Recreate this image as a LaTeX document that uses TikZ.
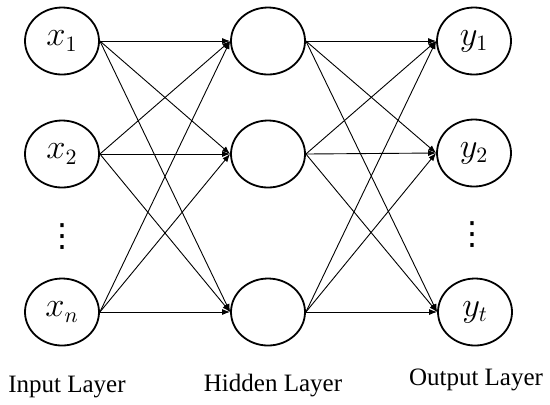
\documentclass[tikz,border=0pt]{standalone}
\usepackage{fontspec}
\setmainfont{Liberation Serif}
\newfontfamily\symfont{DejaVu Sans}
\usepackage{tikz}
\usetikzlibrary{shapes.geometric,arrows.meta}

\begin{document}
\begin{tikzpicture}[x=0.5pt,y=-0.5pt,
    neuron/.style={draw,ellipse,line width=0.9pt,inner sep=0pt,
      minimum width=37pt,minimum height=33.5pt,font=\fontsize{16}{19}\selectfont},
    link/.style={line width=0.45pt,-{Latex[length=4pt,width=3pt]}},
    dots/.style={inner sep=0pt,font=\symfont\fontsize{16}{19}\selectfont},
    layername/.style={font=\fontsize{12.5}{15}\selectfont,anchor=base}]
  \useasboundingbox (0,0) rectangle (550,404);

  % input layer
  \node[neuron] (in1) at (62,41) {$x_1$};
  \node[neuron] (in2) at (62,154) {$x_2$};
  \node[neuron] (inn) at (62,312) {$x_n$};
  \node[dots] (indots) at (62,237) {⋮};

  % hidden layer
  \node[neuron] (hid1) at (268,41) {};
  \node[neuron] (hid2) at (268,154) {};
  \node[neuron] (hid3) at (268,312) {};

  % output layer
  \node[neuron] (out1) at (474,41) {$y_1$};
  \node[neuron] (out2) at (474,153) {$y_2$};
  \node[neuron] (outt) at (475,312) {$y_t$};
  \node[dots] (outdots) at (472,235) {⋮};

  \foreach \src in {in1,in2,inn}
    \foreach \dst in {hid1,hid2,hid3}
      \draw[link] (\src.east) -- (\dst.west);

  \foreach \src in {hid1,hid2,hid3}
    \foreach \dst in {out1,out2,outt}
      \draw[link] (\src.east) -- (\dst.west);

  \node[layername] (inlabel) at (67,392) {Input Layer};
  \node[layername] (hidlabel) at (273,391) {Hidden Layer};
  \node[layername] (outlabel) at (476,385) {Output Layer};
\end{tikzpicture}
\end{document}
